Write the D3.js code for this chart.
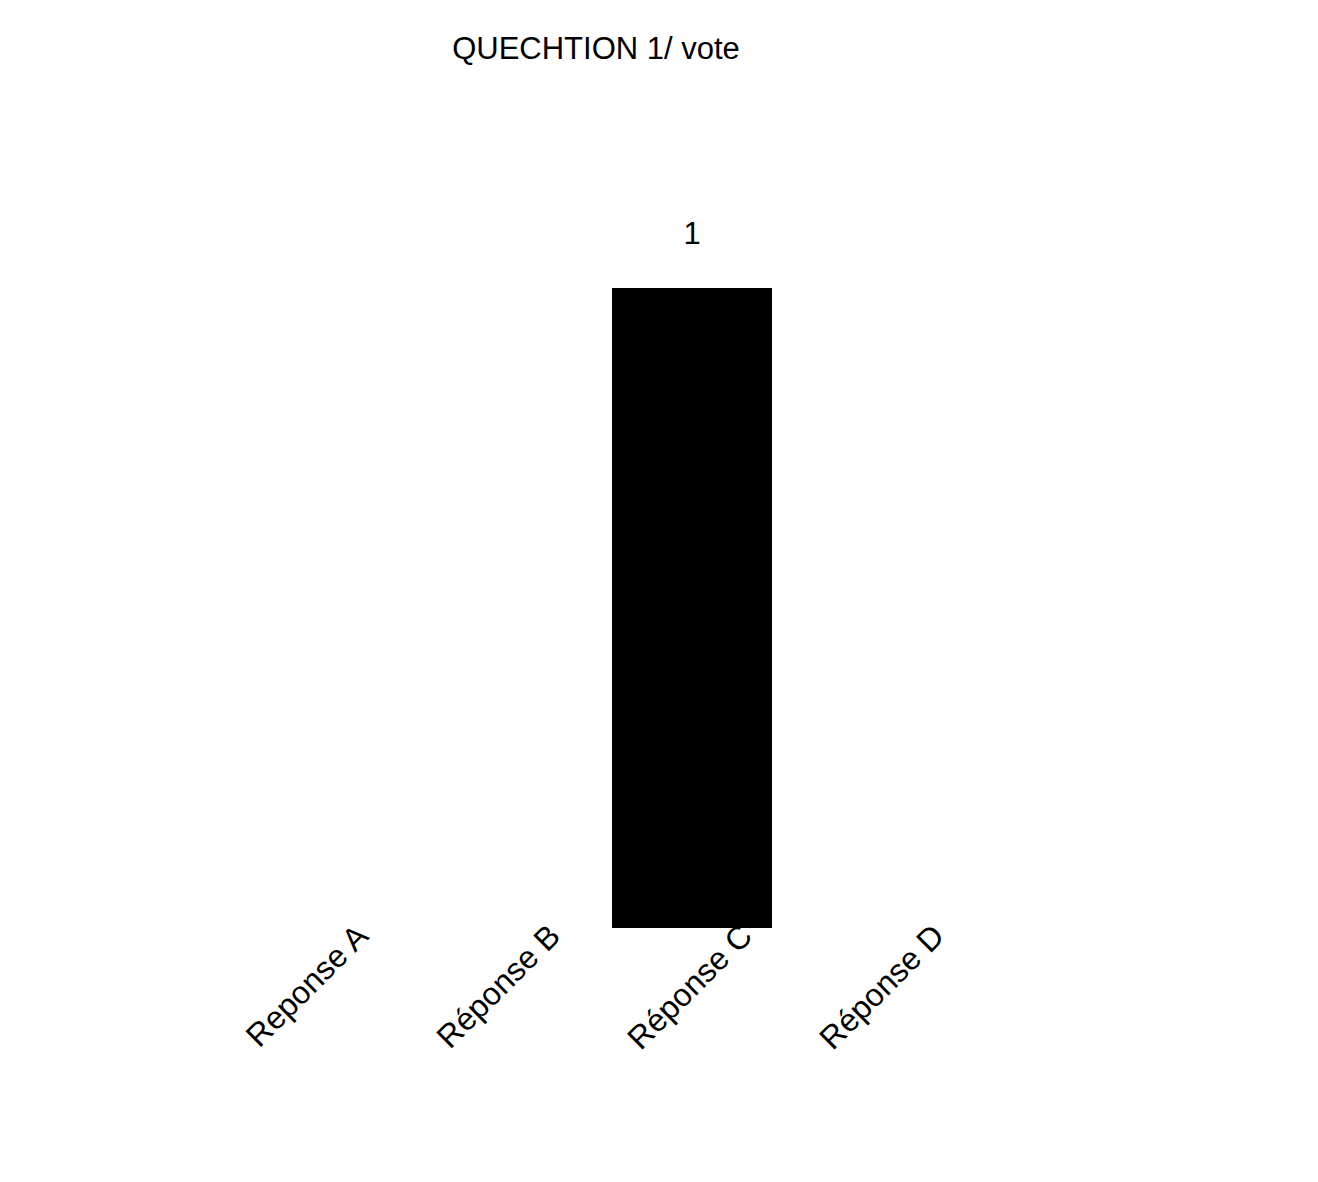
<!DOCTYPE html>
<html>
<head>
<meta charset="utf-8">
<script src="https://cdn.jsdelivr.net/npm/d3@7"></script>
<style>
  body { margin: 0; background: #fff; }
  text { font-family: 'Liberation Sans', Arial, sans-serif; fill: #000; }
</style>
</head>
<body>
<div id="chart"></div>
<script>
var title = 'QUECHTION 1/ vote'
var reponses = ['Reponse A', 'Réponse B', 'Réponse C', 'Réponse D']
var votes = [0, 0, 1, 0]

var margin = { top: 288, left: 196, right: 322, bottom: 254 }
var width = 1318 - margin.left - margin.right
var height = 1182 - margin.top - margin.bottom

var svg = d3
  .select('#chart')
  .append('svg')
  .attr('width', width + margin.left + margin.right)
  .attr('height', height + margin.top + margin.bottom)

svg
  .append('text')
  .attr('x', margin.left + width / 2)
  .attr('y', 59)
  .attr('text-anchor', 'middle')
  .attr('font-size', 31)
  .text(title)

var g = svg
  .append('g')
  .attr('transform', 'translate(' + margin.left + ',' + margin.top + ')')

var data = reponses.map((r, i) => ({ reponse: r, votes: votes[i] }))

var x = d3
  .scaleBand()
  .domain(reponses)
  .range([0, width])
  .padding(1 / 6)

var y = d3
  .scaleLinear()
  .domain([0, d3.max(votes)])
  .range([height, 0])

g.selectAll('.bar')
  .data(data)
  .enter()
  .append('rect')
  .attr('class', 'bar')
  .attr('x', d => x(d.reponse))
  .attr('y', d => y(d.votes))
  .attr('width', x.bandwidth())
  .attr('height', d => height - y(d.votes))
  .attr('fill', '#000')

// vote count above each bar (only when there are votes)
g.selectAll('.count')
  .data(data.filter(d => d.votes > 0))
  .enter()
  .append('text')
  .attr('class', 'count')
  .attr('x', d => x(d.reponse) + x.bandwidth() / 2)
  .attr('y', d => y(d.votes) - 44)
  .attr('text-anchor', 'middle')
  .attr('font-size', 31)
  .text(d => d.votes)

// rotated category labels
g.selectAll('.label')
  .data(reponses)
  .enter()
  .append('text')
  .attr('class', 'label')
  .attr('transform', d => 'translate(' + (x(d) + x.bandwidth() / 2 + 62) + ',' + (height + 10) + ') rotate(-45)')
  .attr('text-anchor', 'end')
  .attr('font-size', 32)
  .text(d => d)
</script>
</body>
</html>
